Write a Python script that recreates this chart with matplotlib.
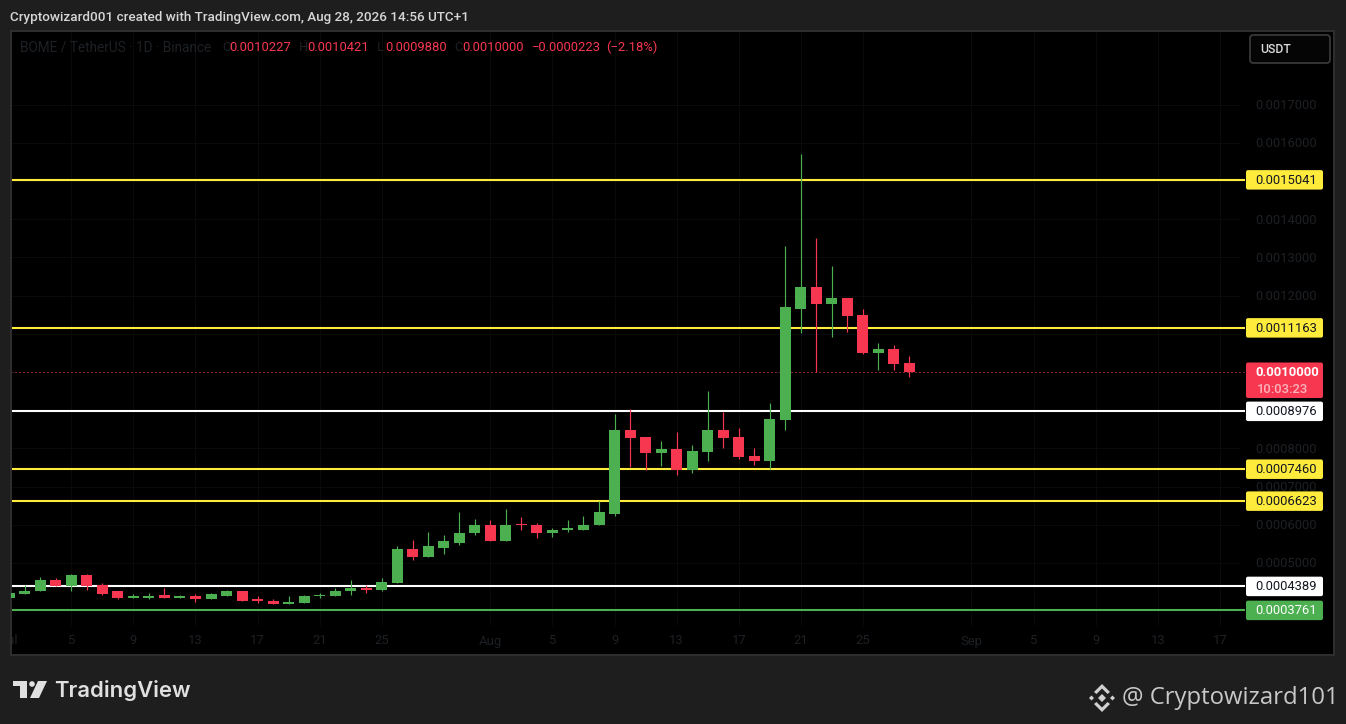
import numpy as np
import matplotlib
matplotlib.use("Agg")
from matplotlib import pyplot as plt
from matplotlib.patches import FancyBboxPatch, Polygon, Circle

# daily candles, Jul 1 .. Aug 28
opens = [0.000409, 0.000419, 0.000425, 0.000456, 0.000440, 0.000467, 0.000443, 0.000425, 0.000409, 0.000409,
         0.000417, 0.000409, 0.000412, 0.000404, 0.000414, 0.000425, 0.000404, 0.000401, 0.000393, 0.000396,
         0.000412, 0.000412, 0.000425, 0.000435, 0.000430, 0.000448, 0.000535, 0.000514, 0.000540, 0.000553,
         0.000577, 0.000600, 0.000558, 0.000600, 0.000598, 0.000577, 0.000585, 0.000587, 0.000598, 0.000629,
         0.000849, 0.000831, 0.000789, 0.000799, 0.000742, 0.000791, 0.000849, 0.000831, 0.000781, 0.000768,
         0.000875, 0.001166, 0.001224, 0.001177, 0.001195, 0.001150, 0.001051, 0.001059, 0.0010227]
highs = [0.000422, 0.000443, 0.000464, 0.000461, 0.000472, 0.000472, 0.000446, 0.000427, 0.000419, 0.000422,
         0.000433, 0.000417, 0.000419, 0.000422, 0.000430, 0.000427, 0.000412, 0.000404, 0.000412, 0.000417,
         0.000422, 0.000433, 0.000456, 0.000443, 0.000459, 0.000543, 0.000561, 0.000582, 0.000574, 0.000634,
         0.000616, 0.000613, 0.000640, 0.000619, 0.000605, 0.000592, 0.000611, 0.000624, 0.000663, 0.000891,
         0.000904, 0.000831, 0.000818, 0.000844, 0.000810, 0.000949, 0.000896, 0.000854, 0.000802, 0.000920,
         0.001331, 0.001570, 0.001350, 0.001279, 0.001195, 0.001164, 0.001075, 0.001072, 0.0010421]
lows = [0.000409, 0.000419, 0.000425, 0.000440, 0.000427, 0.000430, 0.000417, 0.000404, 0.000409, 0.000406,
        0.000409, 0.000409, 0.000398, 0.000404, 0.000414, 0.000401, 0.000396, 0.000393, 0.000393, 0.000396,
        0.000409, 0.000412, 0.000417, 0.000422, 0.000425, 0.000448, 0.000508, 0.000514, 0.000524, 0.000548,
        0.000574, 0.000556, 0.000558, 0.000585, 0.000566, 0.000569, 0.000582, 0.000587, 0.000598, 0.000624,
        0.000750, 0.000742, 0.000755, 0.000731, 0.000736, 0.000768, 0.000802, 0.000773, 0.000757, 0.000747,
        0.000849, 0.001101, 0.001000, 0.001093, 0.001106, 0.001046, 0.001004, 0.001006, 0.0009880]
closes = [0.000422, 0.000427, 0.000456, 0.000440, 0.000467, 0.000440, 0.000419, 0.000409, 0.000412, 0.000414,
          0.000409, 0.000412, 0.000404, 0.000419, 0.000425, 0.000401, 0.000401, 0.000393, 0.000398, 0.000412,
          0.000414, 0.000427, 0.000435, 0.000430, 0.000451, 0.000535, 0.000514, 0.000543, 0.000558, 0.000579,
          0.000600, 0.000558, 0.000600, 0.000598, 0.000577, 0.000587, 0.000590, 0.000600, 0.000632, 0.000849,
          0.000828, 0.000789, 0.000799, 0.000742, 0.000794, 0.000849, 0.000828, 0.000778, 0.000768, 0.000878,
          0.001169, 0.001224, 0.001177, 0.001195, 0.001148, 0.001051, 0.001059, 0.001022, 0.0010000]

level_values = [0.0015041, 0.0011163, 0.0008976, 0.0007460, 0.0006623, 0.0004389, 0.0003761]
level_labels = ["0.0015041", "0.0011163", "0.0008976", "0.0007460", "0.0006623", "0.0004389", "0.0003761"]
level_colors = ["#ffeb3b", "#ffeb3b", "#ffffff", "#ffeb3b", "#ffeb3b", "#ffffff", "#4caf50"]
level_text = ["#131722", "#131722", "#131722", "#131722", "#131722", "#131722", "#ffffff"]

price_ticks = [0.0005, 0.0006, 0.0007, 0.0008, 0.0012, 0.0013, 0.0014, 0.0016, 0.0017]
grid_prices = [0.0005, 0.0006, 0.0007, 0.0008, 0.0009, 0.0010, 0.0011, 0.0012, 0.0013, 0.0014, 0.0015, 0.0016, 0.0017]
date_days = [0, 4, 8, 12, 16, 20, 24, 31, 35, 39, 43, 47, 51, 55, 62, 66, 70, 74, 78]
date_labels = ["Jul", "5", "9", "13", "17", "21", "25", "Aug", "5", "9", "13", "17", "21", "25",
               "Sep", "5", "9", "13", "17"]
last_price = 0.0010000

GREEN = "#4caf50"
RED = "#f7374f"
FAINT = "#1d2024"
FONT = "Roboto"
W, H = 1346, 724

plt.rcParams["font.family"] = [FONT, "DejaVu Sans"]
fig = plt.figure(figsize=(W / 100, H / 100), dpi=100, facecolor="#1e1e1e")

# price pane
L, T, R, B = 11, 31, 1334, 655
ax = fig.add_axes([L / W, 1 - B / H, (R - L) / W, (B - T) / H], facecolor="#000000")
ax.set_xlim((L - 9.26) / 15.52, (R - 9.26) / 15.52)
ax.set_ylim(0.001 - (B - 372.0) * 2.62e-6, 0.001 + (372.0 - T) * 2.62e-6)
ax.set_xticks([])
ax.set_yticks([])
for s in ax.spines.values():
    s.set_color("#2f2f2f")
    s.set_linewidth(1.4)

ytr = ax.get_yaxis_transform()
xtr = ax.get_xaxis_transform()
end_frac = (1245 - L) / (R - L)

ax.hlines(grid_prices, 0, (1240 - L) / (R - L), transform=ytr, colors="#0a0a0a", linewidth=0.8, zorder=1)
ax.vlines(date_days, (B - 625) / (B - T), 1, transform=xtr, colors="#0a0a0a", linewidth=0.8, zorder=1)

opens_a = np.array(opens)
closes_a = np.array(closes)
days = np.arange(len(opens))
colors = [GREEN if c >= o else RED for o, c in zip(opens, closes)]

ax.hlines(last_price, 0, end_frac, transform=ytr, colors=RED, linewidth=0.72, linestyle=(0, (1, 3)), zorder=2)
for v, c in zip(level_values, level_colors):
    ax.hlines(v, 0, end_frac, transform=ytr, colors=c, linewidth=1.5, zorder=2)
ax.vlines(days, lows, highs, colors=colors, linewidth=0.85, zorder=3)
# thin bodies still get about one pixel, as on the trading chart
body = np.maximum(np.abs(closes_a - opens_a), 3e-6)
ax.bar(days, body, bottom=np.minimum(opens_a, closes_a), width=0.71,
       color=colors, linewidth=0, zorder=4)

for d, t in zip(date_days, date_labels):
    ax.text(d, (B - 641) / (B - T), t, transform=xtr, color=FAINT, fontsize=9.4,
            ha="center", va="center", clip_on=True, zorder=2)

# pixel overlay for the tags, header and watermarks
ov = fig.add_axes([0, 0, 1, 1], facecolor="none")
ov.set_xlim(0, W)
ov.set_ylim(H, 0)
ov.axis("off")


def to_px(price):
    return H - ax.transData.transform((0, price))[1]


def tag(y0, y1, color):
    ov.add_patch(FancyBboxPatch((1248, y0 + 2), 73, y1 - y0 - 4, boxstyle="round,pad=2,rounding_size=2",
                                facecolor=color, edgecolor="none", zorder=5))


for p in price_ticks:
    ov.text(1286, to_px(p) + 1, f"{p:.7f}", color=FAINT, fontsize=9.4, ha="center", va="center", zorder=2)

for v, lab, c, tc in zip(level_values, level_labels, level_colors, level_text):
    y = to_px(v)
    tag(y - 9.5, y + 10, c)
    ov.text(1286.5, y + 0.5, lab, color=tc, fontsize=9.4, ha="center", va="center", zorder=6)

y = to_px(last_price)
tag(y - 9.5, y + 26, RED)
ov.text(1287, y + 0.5, f"{last_price:.7f}", color="#ffffff", fontsize=9.4, fontweight="bold",
        ha="center", va="center", zorder=6)
ov.text(1283, y + 17.5, "10:03:23", color="#fbb4bd", fontsize=9.4, fontweight="medium",
        ha="center", va="center", zorder=6)

ov.add_patch(FancyBboxPatch((1252, 37), 76, 24, boxstyle="round,pad=2,rounding_size=3",
                            facecolor="#050505", edgecolor="#3c3c3c", linewidth=1.2, zorder=5))
ov.text(1260, 49.5, "USDT", color="#dbdbdb", fontsize=8.8, fontweight="medium", ha="left", va="center", zorder=6)

ov.text(10, 17, "Cryptowizard001 created with TradingView.com, Aug 28, 2026 14:56 UTC+1", color="#d6d6d6",
        fontsize=9.7, fontweight="medium", ha="left", va="center")

ov.text(20, 47.5, "BOME / TetherUS · 1D · Binance", color=FAINT, fontsize=9.85, ha="left", va="center")
for x, t in [(222, "O"), (299, "H"), (377, "L"), (454, "C")]:
    ov.text(x, 47.5, t, color=FAINT, fontsize=9.4, ha="left", va="center")
for x, t in [(229, "0.0010227"), (307, "0.0010421"), (385, "0.0009880"), (462, "0.0010000"),
             (532, "−0.0000223"), (606, "(−2.18%)")]:
    ov.text(x, 47.5, t, color=RED, fontsize=9.4, ha="left", va="center")

# TradingView logo
LOGO = "#e0e0e0"
ov.add_patch(Polygon([(13, 681), (27, 681), (27, 698), (20, 698), (20, 686), (13, 686)], facecolor=LOGO, edgecolor="none"))
ov.add_patch(Circle((32, 684), 2.8, facecolor=LOGO, edgecolor="none"))
ov.add_patch(Polygon([(38, 681), (47, 681), (39, 698), (30, 698)], facecolor=LOGO, edgecolor="none"))
ov.text(54, 690.5, "TradingView", color=LOGO, fontsize=15.9, fontweight="semibold", family="Inter",
        ha="left", va="center")

# exchange mark and handle
MARK = "#d0d0d0"
cx, cy = 1102, 698
ov.add_patch(Polygon([(cx, cy - 4), (cx + 4, cy), (cx, cy + 4), (cx - 4, cy)], facecolor=MARK, edgecolor="none"))
for sx in (-1, 1):
    ov.add_patch(Polygon([(cx + sx * 10.5, cy - 2.5), (cx + sx * 13, cy), (cx + sx * 10.5, cy + 2.5), (cx + sx * 8, cy)],
                         facecolor=MARK, edgecolor="none"))
for sy in (-1, 1):
    ov.add_patch(Polygon([(cx - 8, cy + sy * 6), (cx, cy + sy * 14), (cx + 8, cy + sy * 6), (cx + 5.5, cy + sy * 4),
                          (cx, cy + sy * 9.5), (cx - 5.5, cy + sy * 4)], facecolor=MARK, edgecolor="none"))
ov.text(1122, 698, "@ Cryptowizard101", color="#c8c8c8", fontsize=17.2, family="Open Sans", ha="left", va="center")

fig.savefig("out.png", dpi=100, facecolor=fig.get_facecolor())
